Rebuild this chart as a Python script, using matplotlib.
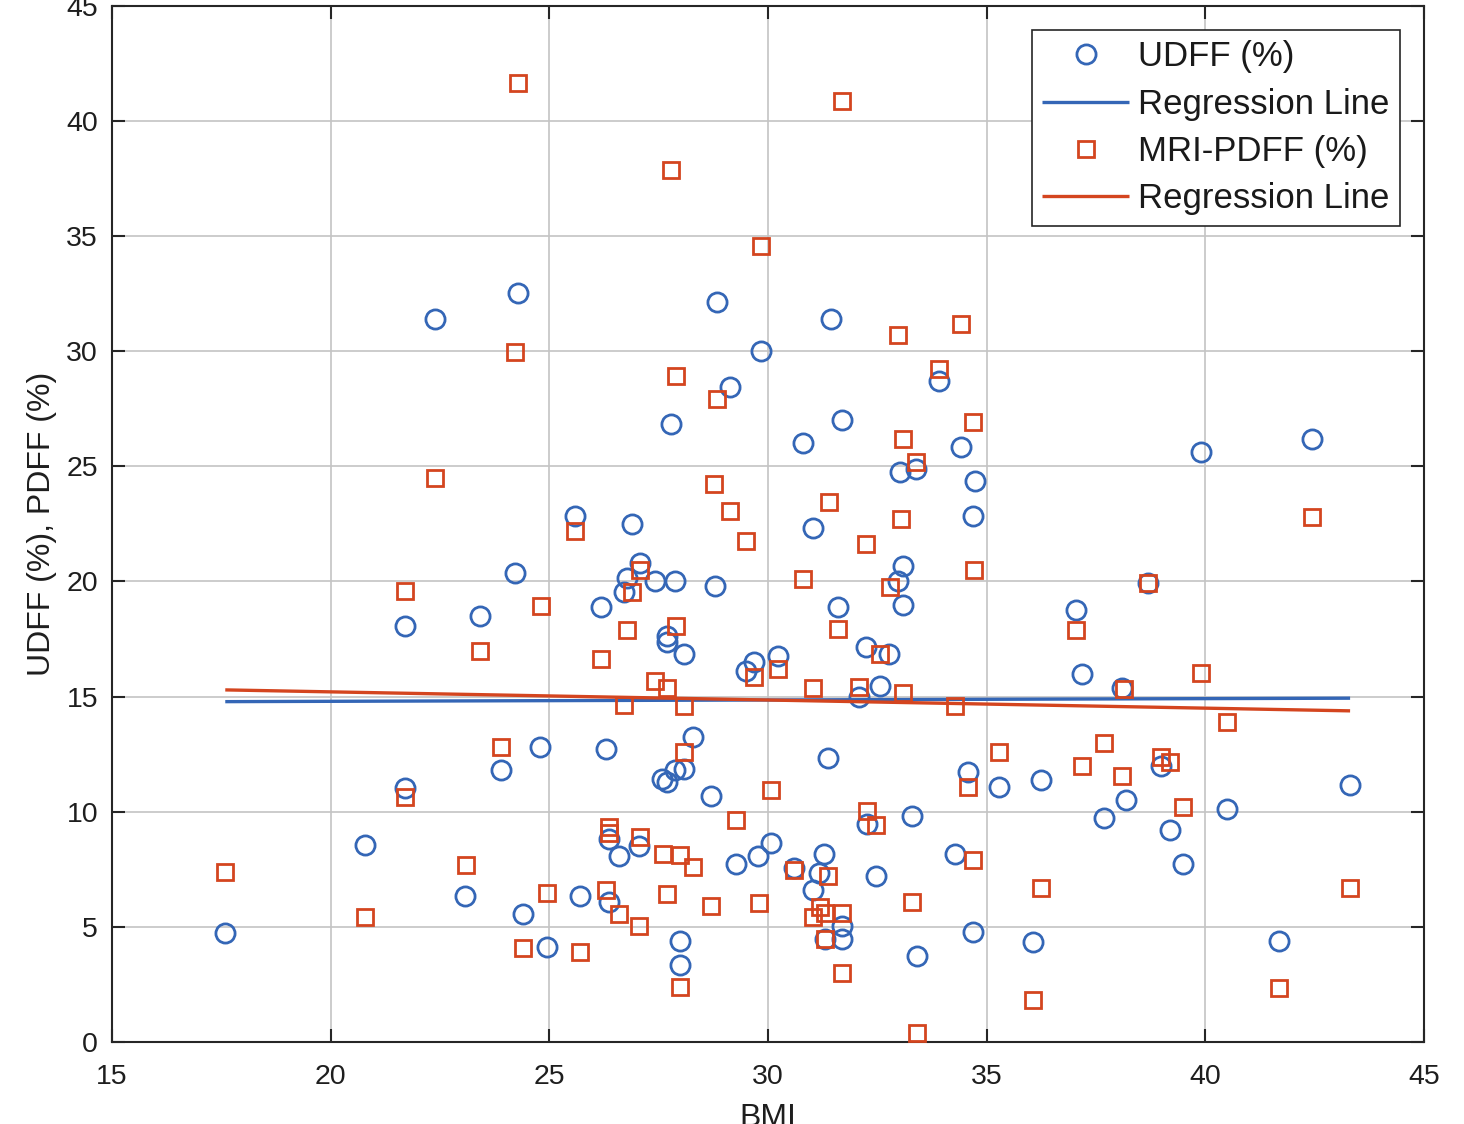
import matplotlib
matplotlib.use("Agg")
import matplotlib.pyplot as plt
import numpy as np

plt.rcParams['font.family'] = ['Liberation Sans', 'DejaVu Sans']

# ---------------- data ----------------
udff_bmi = [17.59, 20.79, 21.69, 23.89, 24.79, 23.08, 24.39, 24.95,
            24.22, 21.69, 23.41,
            24.28, 22.38,
            28.83, 31.44, 29.84,
            29.14, 27.79, 30.79, 31.69, 33.90, 34.41, 33.38, 33.02, 34.73, 34.68,
            31.02, 25.59, 26.88, 27.07, 26.77, 27.42, 27.87, 28.79, 26.71, 26.18,
            27.68, 27.68, 28.09, 29.49, 29.69, 30.22, 31.61, 32.24, 32.77, 33.09,
            32.98, 33.09, 32.55, 32.09,
            39.90, 42.43, 38.68, 37.04, 37.17, 38.09,
            26.29, 28.29, 27.57, 27.68, 27.87, 28.09, 28.69, 31.38, 26.37, 26.59,
            27.05, 29.27, 29.78, 30.08, 30.60, 31.28, 31.17, 31.02, 32.27, 33.29,
            32.48, 34.28, 34.58, 34.68, 33.40, 25.69, 26.36, 27.99, 27.99, 31.69,
            31.69, 31.31,
            35.28, 37.69, 36.24, 38.18, 38.98, 39.19, 39.48, 40.49, 43.31, 36.05,
            41.69]
udff_val = [4.72, 8.56, 11.02, 11.79, 12.83, 6.36, 5.55, 4.14,
            20.36, 18.07, 18.52,
            32.52, 31.39,
            32.13, 31.39, 29.99,
            28.43, 26.83, 26.00, 26.99, 28.71, 25.82, 24.89, 24.75, 24.38, 22.82,
            22.31, 22.86, 22.50, 20.80, 20.17, 20.04, 20.04, 19.81, 19.56, 18.87,
            17.64, 17.39, 16.84, 16.09, 16.49, 16.78, 18.87, 17.14, 16.84, 20.65,
            20.00, 18.98, 15.48, 14.96,
            25.60, 26.19, 19.93, 18.77, 15.97, 15.36,
            12.73, 13.24, 11.41, 11.31, 11.79, 11.85, 10.70, 12.35, 8.81, 8.08,
            8.51, 7.72, 8.08, 8.66, 7.54, 8.15, 7.36, 6.60, 9.46, 9.82,
            7.21, 8.15, 11.74, 4.79, 3.75, 6.36, 6.07, 4.40, 3.34, 5.05,
            4.47, 4.46,
            11.09, 9.74, 11.38, 10.51, 12.00, 9.21, 7.72, 10.12, 11.16, 4.33,
            4.40]

pdff_bmi = [17.59, 20.79, 21.69, 23.89, 23.10, 24.39, 24.95,
            22.38, 21.69, 24.80, 23.41,
            24.28, 24.21,
            31.69, 27.78, 29.84, 32.98, 34.41,
            27.89, 28.83, 33.90, 34.68, 33.08, 33.38, 28.77, 29.14, 29.49, 31.40,
            32.23, 33.03, 25.59, 27.07, 26.88, 26.78, 27.89, 26.18, 27.42, 27.68,
            29.69, 30.22, 30.79, 31.61, 32.56, 32.79, 34.71, 32.09, 31.02, 33.09,
            34.28, 26.71, 28.09,
            42.43, 38.68, 37.04, 38.15, 39.90,
            28.09, 29.26, 30.08, 26.37, 26.37, 27.07, 27.59, 27.99, 28.29, 30.60,
            31.38, 32.27, 32.48, 34.68, 34.58, 33.29, 33.40, 25.69, 26.29, 26.59,
            27.05, 27.68, 28.69, 29.80, 27.99, 31.19, 31.31, 31.02, 31.69, 31.31,
            31.69,
            40.49, 35.28, 37.69, 37.19, 36.24, 38.09, 38.98, 39.19, 39.48, 43.31,
            36.05, 41.69]
pdff_val = [7.40, 5.44, 10.63, 12.80, 7.69, 4.10, 6.46,
            24.49, 19.59, 18.95, 16.99,
            41.65, 29.95,
            40.85, 37.88, 34.55, 30.71, 31.19,
            28.94, 27.92, 29.22, 26.92, 26.19, 25.18, 24.24, 23.07, 21.76, 23.47,
            21.63, 22.72, 22.17, 20.50, 19.52, 17.90, 18.07, 16.64, 15.68, 15.36,
            15.83, 16.20, 20.11, 17.94, 16.84, 19.75, 20.50, 15.41, 15.39, 15.15,
            14.57, 14.64, 14.60,
            22.78, 19.93, 17.90, 15.32, 16.04,
            12.61, 9.64, 10.95, 9.35, 9.07, 8.89, 8.15, 8.12, 7.59, 7.47,
            7.23, 10.05, 9.43, 7.91, 11.09, 6.10, 0.40, 3.92, 6.60, 5.56,
            5.05, 6.43, 5.91, 6.03, 2.40, 5.88, 5.62, 5.44, 5.62, 4.46,
            3.01,
            13.91, 12.61, 13.00, 12.00, 6.70, 11.56, 12.39, 12.15, 10.22, 6.68,
            1.82, 2.36]

# regression coefficients [intercept, slope]
udff_fit = [14.677, 0.00583]
pdff_fit = [15.912, -0.03538]

series_labels = ['UDFF (%)', 'Regression Line', 'MRI-PDFF (%)', 'Regression Line']
x_label = 'BMI'
y_label = 'UDFF (%), PDFF (%)'

# ---------------- drawing ----------------
blue = '#3466B6'
red = '#D4451F'
dark = '#262626'

fig = plt.figure(figsize=(14.64, 11.24), dpi=100)
ax = fig.add_axes([112 / 1464, (1124 - 1042) / 1124, 1312 / 1464, (1042 - 5.7) / 1124])

xx_u = np.array([min(udff_bmi), max(udff_bmi)])
xx_p = np.array([min(pdff_bmi), max(pdff_bmi)])

ax.plot(udff_bmi, udff_val, linestyle='none', marker='o', markersize=13.8,
        markerfacecolor='none', markeredgecolor=blue, markeredgewidth=2.0,
        label=series_labels[0], zorder=3)
ax.plot(xx_u, udff_fit[0] + udff_fit[1] * xx_u, color=blue, linewidth=2.4,
        label=series_labels[1], zorder=4, solid_capstyle='butt')
ax.plot(pdff_bmi, pdff_val, linestyle='none', marker='s', markersize=11.0,
        markerfacecolor='none', markeredgecolor=red, markeredgewidth=2.0,
        label=series_labels[2], zorder=5)
ax.plot(xx_p, pdff_fit[0] + pdff_fit[1] * xx_p, color=red, linewidth=2.4,
        label=series_labels[3], zorder=6, solid_capstyle='butt')

ax.set_xlim(15, 45)
ax.set_ylim(0, 45)
ax.set_xticks(np.arange(15, 46, 5))
ax.set_yticks(np.arange(0, 46, 5))

ax.grid(True, color='#C4C4C4', linewidth=1.2, zorder=0)
ax.set_axisbelow(True)
for s in ax.spines.values():
    s.set_color(dark)
    s.set_linewidth(1.5)
ax.tick_params(direction='in', length=9.5, width=1.5, color=dark,
               top=True, right=True, labelsize=20.5, labelcolor='#1e1e1e')
ax.tick_params(axis='y', pad=10)
ax.tick_params(axis='x', pad=15.5)

ax.set_xlabel(x_label, fontsize=23, color='#1e1e1e', labelpad=10)
ax.set_ylabel(y_label, fontsize=23, color='#1e1e1e', labelpad=7)

leg = ax.legend(loc='upper right', fontsize=25, frameon=True, fancybox=False,
                framealpha=1, edgecolor=dark, handlelength=2.5,
                handletextpad=0.25, labelspacing=0.41, borderpad=0.3,
                borderaxespad=0.7)
leg.get_frame().set_linewidth(1.2)
for t in leg.get_texts():
    t.set_color('#1a1a1a')

fig.savefig('out.png', dpi=100)
